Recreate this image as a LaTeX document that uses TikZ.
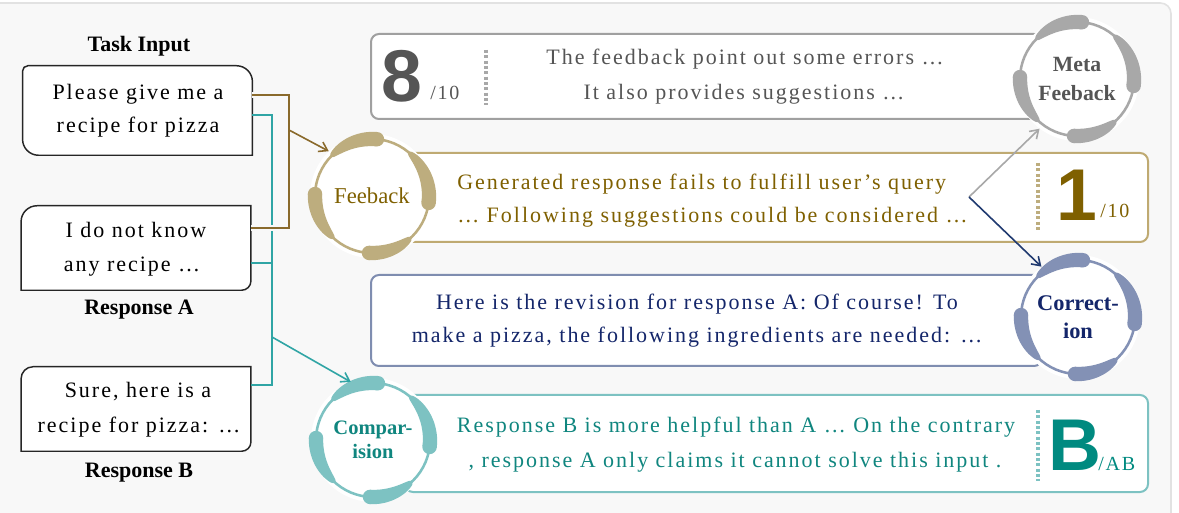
\documentclass[tikz,border=0pt]{standalone}
\usepackage{fontspec}
\setmainfont{Liberation Serif}
\newfontfamily\spc[LetterSpace=9]{Liberation Serif}
\newfontfamily\bsf{Liberation Sans}
\usetikzlibrary{arrows.meta,calc}
\definecolor{bgc}{HTML}{F8F8F8}
\definecolor{panelline}{HTML}{E2E2E2}
\definecolor{fbtext}{HTML}{7F6000}
\definecolor{fbring}{HTML}{BDAD7E}
\definecolor{fbline}{HTML}{BFAA72}
\definecolor{brownc}{HTML}{8A6A2C}
\definecolor{cmpring}{HTML}{7DC2C2}
\definecolor{cmptext}{HTML}{10867F}
\definecolor{tealc}{HTML}{30A5A5}
\definecolor{bigb}{HTML}{008A80}
\definecolor{corring}{HTML}{8391B5}
\definecolor{cortext}{HTML}{14266A}
\definecolor{corline}{HTML}{7F8DB0}
\definecolor{navyarr}{HTML}{203A70}
\definecolor{metaring}{HTML}{A8A8A8}
\definecolor{metatext}{HTML}{555555}
\definecolor{metaline}{HTML}{A0A0A0}
\newcommand{\rseg}[3]{%
 \fill[#1] plot[domain=0:1,samples=30] ({(57+1.0+6.2*sqrt(sin(90*\x)))*cos(#2+((#3)-(#2))*\x)}, {(57+1.0+6.2*sqrt(sin(90*\x)))*sin(#2+((#3)-(#2))*\x)})
 -- plot[domain=0:1,samples=30] ({(57-1.0-6.2*sqrt(sin(90*(1-\x))))*cos(#3+((#2)-(#3))*\x)}, {(57-1.0-6.2*sqrt(sin(90*(1-\x))))*sin(#3+((#2)-(#3))*\x)}) -- cycle;
 \fill[#1] (#3:57) circle (7.2);
}
\newcommand{\ringdeco}[2]{%
 \begin{scope}[shift={(#1.center)}, x=0.75pt, y=0.75pt]
 \draw[#2, line width=1.9pt] (0,0) circle (57);
 \rseg{#2}{136}{85}
 \rseg{#2}{50}{-7}
 \rseg{#2}{-47}{-93}
 \rseg{#2}{228}{178}
 \end{scope}}
\tikzset{
 lbox/.style={draw=black!85, line width=1.1pt, fill=white},
 lshape/.style={minimum width=172pt, minimum height=#1, inner sep=0},
 ltxt/.style={font=\spc\fontsize{16.5}{20}\selectfont, anchor=base, inner sep=0},
 ttl/.style={font=\bfseries\fontsize{16.5}{20}\selectfont, anchor=base, inner sep=0},
 mbox/.style={fill=white, rounded corners=6pt, line width=1.5pt, inner sep=0},
 mtxt/.style={font=\spc\fontsize{16.5}{20}\selectfont, anchor=base, inner sep=0},
 cnode/.style={circle, fill=white, minimum size=93pt, inner sep=0, align=center},
 arr/.style={-{Straight Barb[length=6pt,width=8pt]}, line width=1.2pt},
 conn/.style={line width=1.3pt},
 dotsep/.style={line width=2.4pt, dash pattern=on 2.2pt off 1.8pt},
 bignum/.style={font=\bsf\bfseries\fontsize{55}{55}\selectfont, inner sep=0},
 smallden/.style={font=\spc\fontsize{15}{15}\selectfont, inner sep=0, anchor=base west},
}
\begin{document}
\begin{tikzpicture}[x=0.75pt,y=-0.75pt]
\useasboundingbox (0,0) rectangle (1179,513);
\fill[white] (0,0) rectangle (1179,513);
\draw[fill=bgc, draw=panelline, line width=1.2pt, rounded corners=8pt] (-20,3) rectangle (1171,540);

% helper heights
\coordinate (h95) at (0,95);
\coordinate (h115) at (0,115);
\coordinate (h228) at (0,228);
\coordinate (h263) at (0,263);
\coordinate (h385) at (0,385);

% left boxes
\node[lshape=66.75pt] (b1) at (137.5,110.5) {};
\draw[lbox] (b1.west) [rounded corners=4pt] -- (b1.north west) [rounded corners=12pt] -- (b1.north east) [sharp corners] -- (b1.south east) [rounded corners=12pt] -- (b1.south west) [sharp corners] -- cycle;
\node[lshape=63pt] (b2) at (136,248) {};
\draw[lbox] (b2.west) [rounded corners=12pt] -- (b2.north west) [sharp corners] -- (b2.north east) [rounded corners=7pt] -- (b2.south east) [sharp corners] -- (b2.south west) -- cycle;
\node[lshape=63pt] (b3) at (136,409) {};
\draw[lbox] (b3.west) [rounded corners=9pt] -- (b3.north west) [sharp corners] -- (b3.north east) [rounded corners=7pt] -- (b3.south east) [sharp corners] -- (b3.south west) -- cycle;

\node[ttl] (tin) at (139,52) {Task Input};
\node[ttl] (ra) at (139,315) {Response A};
\node[ttl] (rb) at (139,477) {Response B};
\node[ltxt] (b1a) at (138,100) {Please give me a};
\node[ltxt] (b1b) at (138,133) {recipe for pizza};
\node[ltxt] (b2a) at (136,238) {I do not know};
\node[ltxt] (b2b) at (132,272) {any recipe …};
\node[ltxt] (b3a) at (138,398) {Sure, here is a};
\node[ltxt] (b3b) at (139,432) {recipe for pizza: …};

% connectors
\draw[conn, tealc] (b1.east |- h115) -- (272,115) -- (272,385) -- (b3.east |- h385);
\draw[conn, tealc] (272,263) -- (b2.east |- h263);
\draw[conn, brownc, preaction={draw=bgc, line width=5pt}] (b1.east |- h95) -- (289,95) -- (289,228) -- (b2.east |- h228);
\coordinate (bj) at (289,130);
\coordinate (tj) at (272,337);

% main boxes
\node[mbox, draw=metaline, minimum width=503.25pt, minimum height=63.75pt] (mb) at (706.5,76.5) {};
\node[mbox, draw=fbline, minimum width=557.25pt, minimum height=66.75pt] (fbb) at (776.5,197.5) {};
\node[mbox, draw=corline, minimum width=503.25pt, minimum height=68.25pt] (cb) at (706.5,320.5) {};
\node[mbox, draw=cmpring, minimum width=557.25pt, minimum height=72.75pt] (pb) at (776.5,443.5) {};

% meta box content
\node[bignum, text=metatext, anchor=base west] (eight) at (381,102) {8};
\node[smallden, text=metatext] (d1) at (430,100) {/10};
\draw[dotsep, metaring] (486,50) -- (486,105);
\node[mtxt, text=metatext] (m1) at (745,65) {The feedback point out some errors …};
\node[mtxt, text=metatext] (m2) at (744,100) {It also provides suggestions …};

% feedback box content
\node[mtxt, text=fbtext, anchor=base west] (f1) at (457,190) {Generated response fails to fulfill user’s query};
\node[mtxt, text=fbtext, anchor=base west] (f2) at (457,223) {… Following suggestions could be considered …};
\draw[dotsep, fbring] (1038,163) -- (1038,231);
\node[bignum, text=fbtext, anchor=base] (one) at (1077,221) {1};
\node[smallden, text=fbtext] (d2) at (1100,218) {/10};

% correction box content
\node[mtxt, text=cortext] (c1) at (697,310) {Here is the revision for response A: Of course! To};
\node[mtxt, text=cortext] (c2) at (697,343) {make a pizza, the following ingredients are needed: …};

% comparison box content
\node[mtxt, text=cmptext] (p1) at (736,433) {Response B is more helpful than A … On the contrary};
\node[mtxt, text=cmptext] (p2) at (735,468) {, response A only claims it cannot solve this input .};
\draw[dotsep, cmpring] (1038,410) -- (1038,481);
\node[bignum, text=bigb, anchor=base west] (bB) at (1048,470) {B};
\node[smallden, text=bigb] (d3) at (1098,470) {/AB};

% circles
\node[cnode, text=fbtext, font=\fontsize{17}{20}\selectfont] (fb) at (372,196) {Feeback};
\node[cnode, text=cmptext, font=\bfseries\fontsize{15.4}{18}\selectfont] (cmp) at (373,440) {Compar-\\ision};
\node[cnode, text=cortext, font=\bfseries\fontsize{16.8}{21}\selectfont] (cor) at (1078,317) {Correct-\\ion};
\node[cnode, text=metatext, font=\bfseries\fontsize{16.3}{21.75}\selectfont] (meta) at (1077,79) {Meta\\Feeback};
\ringdeco{fb}{fbring}
\ringdeco{cmp}{cmpring}
\ringdeco{cor}{corring}
\ringdeco{meta}{metaring}

% arrows
\coordinate (fork) at (969,197);
\draw[arr, brownc] (bj) -- (fb.134);
\draw[arr, tealc] (tj) -- (cmp.111);
\draw[arr, metaring] (fork) -- (meta.233);
\draw[arr, navyarr] (fork) -- (cor.126);
\end{tikzpicture}
\end{document}
